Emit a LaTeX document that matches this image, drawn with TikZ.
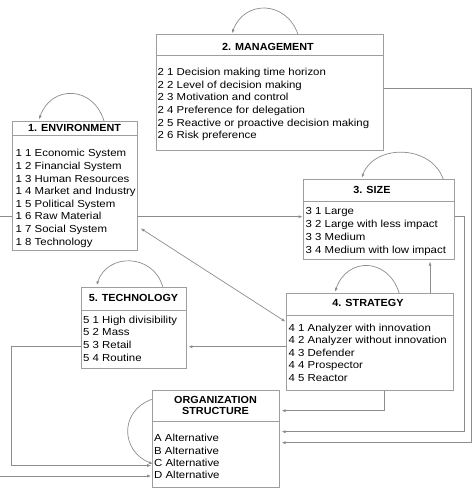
\documentclass[tikz,border=0pt]{standalone}
\usepackage{fontspec}
\setmainfont{Liberation Sans}
\newfontfamily\bodyfont{Liberation Sans}[FakeStretch=1.12]
\newfontfamily\headfont{Liberation Sans Bold}[FakeStretch=1.05]
\usetikzlibrary{arrows.meta,calc}
\definecolor{boxgray}{gray}{0.62}
\definecolor{linegray}{gray}{0.55}
\tikzset{
  box/.style={draw=boxgray, line width=0.8pt, inner sep=0pt, anchor=north west},
  sepline/.style={draw=boxgray, line width=0.8pt},
  head/.style={font=\headfont\fontsize{10.3}{12}\selectfont, inner sep=0pt, align=center, text=black},
  item/.style={font=\bodyfont\fontsize{10.2}{12.6}\selectfont, inner sep=0pt, anchor=west, text height=7.2pt, text depth=2.2pt, text=black},
  conn/.style={draw=linegray, line width=0.7pt},
  arr/.style={conn, -{Latex[length=4pt,width=3pt]}},
  darr/.style={conn, {Latex[length=4pt,width=3pt]}-{Latex[length=4pt,width=3pt]}},
}
\begin{document}
\begin{tikzpicture}[x=1pt,y=-1pt]
\useasboundingbox (0,0) rectangle (474,488);
% ---------- boxes ----------
\node[box, minimum width=227.6pt, minimum height=115.7pt] (mgmt) at (155.7,34.3) {};
\node[box, minimum width=125.6pt, minimum height=129pt] (env) at (11.7,121) {};
\node[box, minimum width=151.3pt, minimum height=80pt] (size) at (302.7,179.3) {};
\node[box, minimum width=105pt, minimum height=81.6pt] (tech) at (81,286.7) {};
\node[box, minimum width=167.3pt, minimum height=96.7pt] (strat) at (286,293.3) {};
\node[box, minimum width=127.6pt, minimum height=96.7pt] (org) at (151.7,390) {};
% separators
\draw[sepline] (155.7,55.7) -- (383.3,55.7);
\draw[sepline] (11.7,135.7) -- (137.3,135.7);
\draw[sepline] (302.7,201.7) -- (454,201.7);
\draw[sepline] (81,310) -- (186,310);
\draw[sepline] (286,315) -- (453.3,315);
\draw[sepline] (151.7,421.7) -- (279.3,421.7);
% headers
\node[head] (mgmt-h) at (268,46.5) {2. MANAGEMENT};
\node[head] (env-h) at (74.5,128.3) {1. ENVIRONMENT};
\node[head] (size-h) at (372,189.8) {3. SIZE};
\node[head] (tech-h) at (133.5,297.5) {5. TECHNOLOGY};
\node[head] (strat-h) at (368,302.8) {4. STRATEGY};
\node[head] (org-h) at (215.5,405.5) {ORGANIZATION\\[-1.2pt]STRUCTURE};
% items
\foreach \t [count=\i] in {2 1 Decision making time horizon,2 2 Level of decision making,2 3 Motivation and control,2 4 Preference for delegation,2 5 Reactive or proactive decision making,2 6 Risk preference}
  \node[item] (mgmt-\i) at (157.5,{72.8+12.7*(\i-1)}) {\t};
\foreach \t [count=\i] in {1 1 Economic System,1 2 Financial System,1 3 Human Resources,1 4 Market and Industry,1 5 Political System,1 6 Raw Material,1 7 Social System,1 8 Technology}
  \node[item] (env-\i) at (15.5,{154.3+12.6*(\i-1)}) {\t};
\foreach \t [count=\i] in {3 1 Large,3 2 Large with less impact,3 3 Medium,3 4 Medium with low impact}
  \node[item] (size-\i) at (305.5,{212.3+12.8*(\i-1)}) {\t};
\foreach \t [count=\i] in {5 1 High divisibility,5 2 Mass,5 3 Retail,5 4 Routine}
  \node[item] (tech-\i) at (83,{320.7+12.7*(\i-1)}) {\t};
\foreach \t [count=\i] in {4 1 Analyzer with innovation,4 2 Analyzer without innovation,4 3 Defender,4 4 Prospector,4 5 Reactor}
  \node[item] (strat-\i) at (288.5,{328.7+12.5*(\i-1)}) {\t};
\foreach \t [count=\i] in {A Alternative,B Alternative,C Alternative,D Alternative}
  \node[item] (org-\i) at (154,{439.3+12.3*(\i-1)}) {\t};
% ---------- self loops ----------
\draw[arr] ([xshift=142.3pt]mgmt.north west) .. controls (286,0) and (244,0) .. ([xshift=76.3pt,yshift=1pt]mgmt.north west);
\draw[arr] ([xshift=92.3pt]env.north west) .. controls (93,85) and (51,85) .. ([xshift=27.3pt,yshift=1.5pt]env.north west);
\draw[arr] ([xshift=140.6pt]size.north west) .. controls (431,144) and (374,144) .. ([xshift=59pt,yshift=1.5pt]size.north west);
\draw[arr] ([xshift=81.7pt]tech.north west) .. controls (153,253) and (107,253) .. ([xshift=15.7pt,yshift=1.5pt]tech.north west);
\draw[arr] ([xshift=113.3pt]strat.north west) .. controls (388,257) and (347,257) .. ([xshift=49pt,yshift=1.5pt]strat.north west);
\draw[arr] (org.west |- 0,399.3) .. controls (118,412) and (122,452) .. ([xshift=-1pt]org-3.west);
% ---------- connectors ----------
\coordinate (rt1) at (471.3,88.3);
\coordinate (rt2) at (471.3,442.7);
\draw[arr] (mgmt.east |- rt1) -- (rt1) -- (rt2) -- ([xshift=1.5pt]org.east |- rt2);
\coordinate (e1) at (0,216.7);
\draw[arr] (env.east |- e1) -- (size.west |- e1);
\coordinate (s1) at (464,216.7);
\coordinate (s2) at (464,431.7);
\draw[arr] (size.east |- s1) -- (s1) -- (s2) -- ([xshift=1.5pt]org.east |- s2);
\coordinate (l1) at (-5,216.7);
\coordinate (l2) at (-5,476);
\draw[arr] (env.west |- l1) -- (l1) -- (l2) -- ([xshift=-0.5pt]org.west |- l2);
\coordinate (d1) at (0,228.3);
\coordinate (d2) at (0,321.7);
\draw[darr] ([xshift=2.5pt]env.east |- d1) -- ([xshift=-0.5pt]strat.west |- d2);
\coordinate (v1) at (430,0);
\draw[arr] (strat.north -| v1) -- ([yshift=-1.5pt]size.south -| v1);
\coordinate (h1) at (0,346.7);
\draw[arr] (strat.west |- h1) -- ([xshift=1.5pt]tech.east |- h1);
\coordinate (t1) at (11.7,346.7);
\coordinate (t2) at (11.7,465.5);
\draw[arr] (tech.west |- t1) -- (t1) -- (t2) -- ([xshift=-0.5pt]org.west |- t2);
\coordinate (b1) at (384.3,0);
\coordinate (b2) at (384.3,410.7);
\draw[arr] (strat.south -| b1) -- (b2) -- ([xshift=1.5pt]org.east |- b2);
\end{tikzpicture}
\end{document}
